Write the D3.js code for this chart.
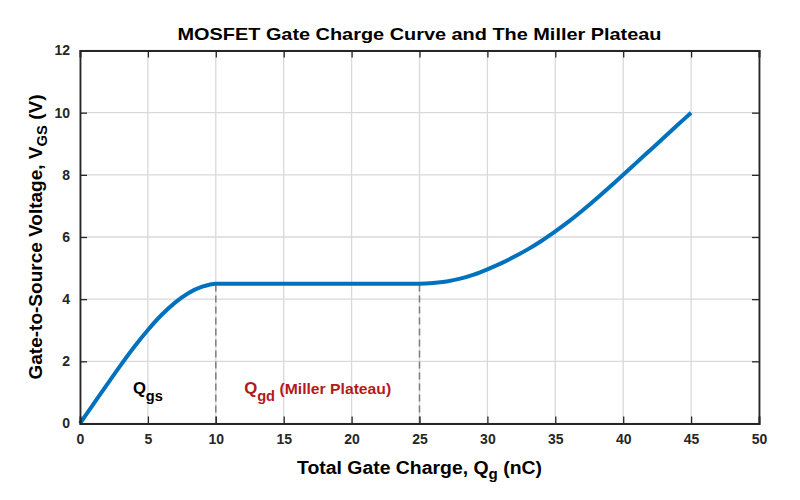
<!DOCTYPE html>
<html>
<head>
<meta charset="utf-8">
<script src="https://cdn.jsdelivr.net/npm/d3@7"></script>
<style>
  body { margin: 0; background: #fff; }
  svg { font-family: "Liberation Sans", Arial, Helvetica, sans-serif; }
</style>
</head>
<body>
<div id="chart"></div>
<script>
// gate charge (nC) and gate-source voltage (V)
const charge = [0, 1, 2, 3, 4, 5, 6, 7, 8, 9, 10,
  25, 26, 27, 28, 29, 30, 31, 32, 33, 34, 35, 36, 37, 38, 39, 40, 41, 42, 43, 44, 45];
const vgs = [0, 0.63, 1.26, 1.88, 2.47, 3.01, 3.49, 3.89, 4.2, 4.4, 4.5,
  4.5, 4.52, 4.57, 4.66, 4.79, 4.96, 5.15, 5.37, 5.61, 5.88, 6.18, 6.5, 6.85, 7.22, 7.61, 8.0, 8.4, 8.8, 9.2, 9.6, 10.0];

const xTicks = [0, 5, 10, 15, 20, 25, 30, 35, 40, 45, 50];
const yTicks = [0, 2, 4, 6, 8, 10, 12];
const regionBounds = [10, 25];   // end of Qgs, end of Qgd
const plateauV = 4.5;
const regionLabels = [
  { main: 'Q', sub: 'gs', rest: '', q: 5, v: 1, color: '#000', len: 30 },
  { main: 'Q', sub: 'gd', rest: ' (Miller Plateau)', q: 17.5, v: 1, color: '#b2191c', len: 147 }
];

const W = 800, H = 500;
const margin = { left: 80, right: 41, top: 50.5, bottom: 76.5 };
const w = W - margin.left - margin.right;
const h = H - margin.top - margin.bottom;

const svg = d3.select('#chart').append('svg')
  .attr('width', W)
  .attr('height', H);

const g = svg.append('g').attr('transform', `translate(${margin.left},${margin.top})`);

const x = d3.scaleLinear().domain([0, 50]).range([0, w]);
const y = d3.scaleLinear().domain([0, 12]).range([h, 0]);

// grid
g.append('g').selectAll('line').data(xTicks).join('line')
  .attr('x1', d => x(d)).attr('x2', d => x(d))
  .attr('y1', 0).attr('y2', h)
  .attr('stroke', '#d9d9d9').attr('stroke-width', 1.3);
g.append('g').selectAll('line').data(yTicks).join('line')
  .attr('x1', 0).attr('x2', w)
  .attr('y1', d => y(d)).attr('y2', d => y(d))
  .attr('stroke', '#d9d9d9').attr('stroke-width', 1.3);

// dashed region boundaries
g.append('g').selectAll('line').data(regionBounds).join('line')
  .attr('x1', d => x(d)).attr('x2', d => x(d))
  .attr('y1', y(0)).attr('y2', y(plateauV))
  .attr('stroke', '#808080').attr('stroke-width', 1.5)
  .attr('stroke-dasharray', '7,4');

// curve
const line = d3.line()
  .x((d, i) => x(charge[i]))
  .y(d => y(d))
  .curve(d3.curveMonotoneX);

g.append('path')
  .datum(vgs)
  .attr('fill', 'none')
  .attr('stroke', '#0072bd')
  .attr('stroke-width', 4)
  .attr('stroke-linejoin', 'round')
  .attr('d', line);

// axes (ticks inward, mirrored on top/right)
const axisColor = '#262626';
const tickLen = 7;
const bottomAxis = g.append('g').attr('transform', `translate(0,${h})`)
  .call(d3.axisBottom(x).tickValues(xTicks).tickSize(-tickLen).tickPadding(11));
const leftAxis = g.append('g')
  .call(d3.axisLeft(y).tickValues(yTicks).tickSize(-tickLen).tickPadding(10));
const topAxis = g.append('g')
  .call(d3.axisTop(x).tickValues(xTicks).tickSize(-tickLen).tickFormat(''));
const rightAxis = g.append('g').attr('transform', `translate(${w},0)`)
  .call(d3.axisRight(y).tickValues(yTicks).tickSize(-tickLen).tickFormat(''));

[bottomAxis, leftAxis, topAxis, rightAxis].forEach(a => {
  a.select('.domain').attr('stroke', axisColor).attr('stroke-width', 1.8);
  a.selectAll('.tick line').attr('stroke', axisColor).attr('stroke-width', 1.3);
  a.selectAll('.tick text')
    .attr('fill', axisColor)
    .attr('font-size', 14)
    .attr('font-weight', 'bold')
    .attr('font-family', '"Liberation Sans", Arial, sans-serif');
});

// region labels
regionLabels.forEach(lb => {
  const t = g.append('text')
    .attr('x', x(lb.q))
    .attr('y', y(lb.v) + 2)
    .attr('text-anchor', 'middle')
    .attr('font-weight', 'bold')
    .attr('fill', lb.color)
    .attr('font-size', 16)
    .attr('textLength', lb.len)
    .attr('lengthAdjust', 'spacingAndGlyphs');
  t.append('tspan').text(lb.main);
  t.append('tspan').attr('dy', 7).attr('font-size', 14).text(lb.sub);
  if (lb.rest) t.append('tspan').attr('dy', -7).attr('font-size', 15).text(lb.rest);
});

// title
svg.append('text')
  .attr('x', margin.left + w / 2)
  .attr('y', 40)
  .attr('text-anchor', 'middle')
  .attr('font-size', 17)
  .attr('font-weight', 'bold')
  .attr('fill', '#000')
  .attr('textLength', 484)
  .attr('lengthAdjust', 'spacingAndGlyphs')
  .text('MOSFET Gate Charge Curve and The Miller Plateau');

// x label
const xl = svg.append('text')
  .attr('x', margin.left + w / 2)
  .attr('y', 474)
  .attr('text-anchor', 'middle')
  .attr('font-size', 18)
  .attr('font-weight', 'bold')
  .attr('fill', '#000')
  .attr('textLength', 245)
  .attr('lengthAdjust', 'spacingAndGlyphs');
xl.append('tspan').text('Total Gate Charge, Q');
xl.append('tspan').attr('dy', 5).attr('font-size', 14).text('g');
xl.append('tspan').attr('dy', -5).text(' (nC)');

// y label
const yl = svg.append('text')
  .attr('transform', `translate(42,${margin.top + h / 2}) rotate(-90)`)
  .attr('text-anchor', 'middle')
  .attr('font-size', 18)
  .attr('font-weight', 'bold')
  .attr('fill', '#000')
  .attr('textLength', 285)
  .attr('lengthAdjust', 'spacingAndGlyphs');
yl.append('tspan').text('Gate-to-Source Voltage, V');
yl.append('tspan').attr('dy', 5).attr('font-size', 14).text('GS');
yl.append('tspan').attr('dy', -5).text(' (V)');
</script>
</body>
</html>
